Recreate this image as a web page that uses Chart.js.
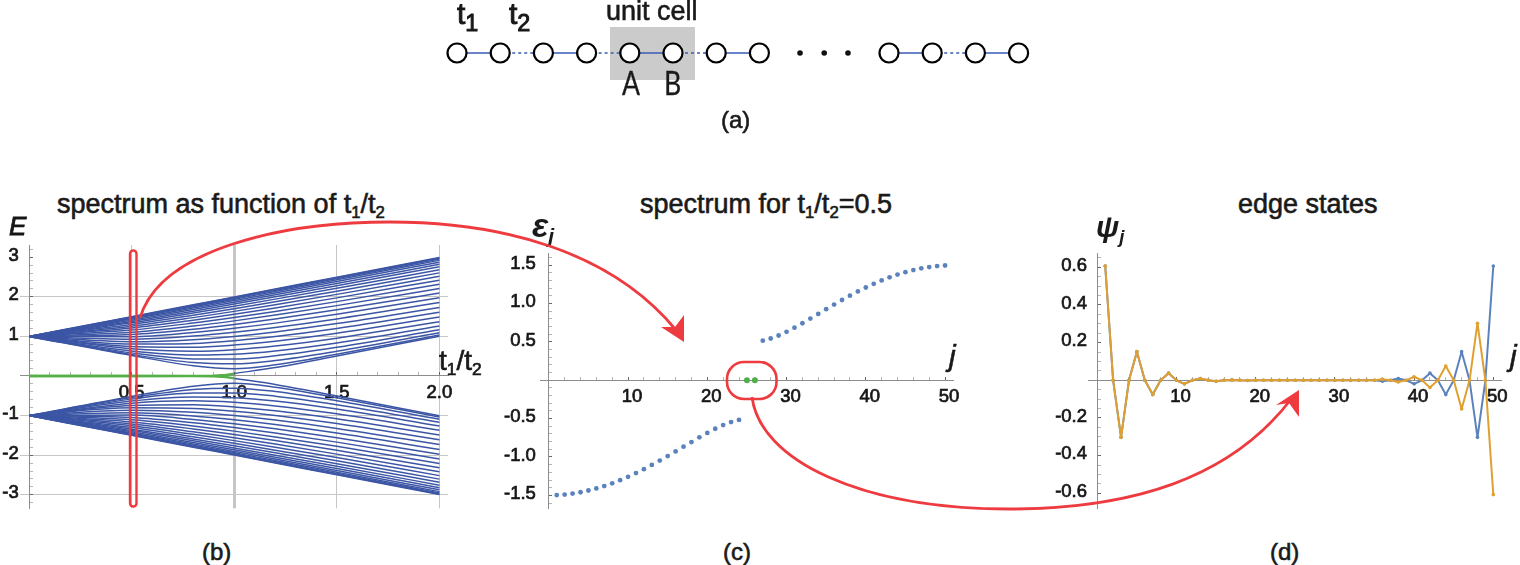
<!DOCTYPE html>
<html>
<head>
<meta charset="utf-8">
<title>SSH chain</title>
<script src="https://cdn.jsdelivr.net/npm/chart.js@4/dist/chart.umd.min.js"></script>
<style>
  html,body{margin:0;padding:0;background:#fff;}
  #page{position:relative;width:1520px;height:565px;overflow:hidden;font-family:"Liberation Sans",sans-serif;color:#1a1a1a;}
  canvas{position:absolute;}
  #cell{position:absolute;left:610px;top:27px;width:85px;height:53px;background:#cbcbcb;}
  #overlay{position:absolute;left:0;top:0;pointer-events:none;}
  .lbl{position:absolute;white-space:nowrap;line-height:1;}
  .title{font-size:27px;-webkit-text-stroke:0.6px #1a1a1a;}
  .cap{font-size:24px;-webkit-text-stroke:0.6px #1a1a1a;}
  .ax{font-style:italic;font-size:30px;}
  .site{font-family:Lato;font-size:31px;transform:scale(0.86,1.05);transform-origin:left top;color:#1a1a1a;-webkit-text-stroke:0.3px #1a1a1a;}
  sub{font-size:62%;line-height:0;vertical-align:-0.3em;}
</style>
</head>
<body>
<div id="page">
  <div id="cell"></div>
  <canvas id="chainChart" width="600" height="52" style="left:440px;top:27px"></canvas>
  <canvas id="sweepChart" width="470" height="280" style="left:0;top:240px"></canvas>
  <canvas id="levelChart" width="490" height="280" style="left:490px;top:240px"></canvas>
  <canvas id="edgeChart" width="480" height="280" style="left:1040px;top:240px"></canvas>

  <span class="lbl" style="left:457px;top:-1px;font-size:30px;-webkit-text-stroke:0.9px #111">t<sub style="font-size:78%">1</sub></span>
  <span class="lbl" style="left:509px;top:-1px;font-size:30px;-webkit-text-stroke:0.9px #111">t<sub style="font-size:78%">2</sub></span>
  <span class="lbl" style="left:606px;top:-2px;font-size:27px;-webkit-text-stroke:0.6px #1a1a1a">unit cell</span>
  <span class="lbl site" style="left:622px;top:67px">A</span>
  <span class="lbl site" style="left:664px;top:67px">B</span>
  <span class="lbl cap" style="left:721px;top:108px">(a)</span>

  <span class="lbl title" style="left:57px;top:191px">spectrum as function of t<sub>1</sub>/t<sub>2</sub></span>
  <span class="lbl title" style="left:640px;top:191px">spectrum for t<sub>1</sub>/t<sub>2</sub>=0.5</span>
  <span class="lbl title" style="left:1238px;top:191px">edge states</span>

  <span class="lbl ax" style="left:9px;top:213px;font-size:26px;-webkit-text-stroke:0.8px #111">E</span>
  <span class="lbl" style="left:439px;top:347px;font-size:28px;-webkit-text-stroke:0.6px #111">t<sub>1</sub>/t<sub>2</sub></span>
  <span class="lbl ax" style="left:532px;top:208px;font-weight:bold;font-size:34px">ε<sub>j</sub></span>
  <span class="lbl ax" style="left:949px;top:341px;-webkit-text-stroke:0.5px #111">j</span>
  <span class="lbl ax" style="left:1096px;top:212px;font-weight:bold">ψ<sub>j</sub></span>
  <span class="lbl ax" style="left:1510px;top:341px;-webkit-text-stroke:0.5px #111">j</span>

  <span class="lbl cap" style="left:202px;top:540px">(b)</span>
  <span class="lbl cap" style="left:723px;top:540px">(c)</span>
  <span class="lbl cap" style="left:1270px;top:540px">(d)</span>

  <svg id="overlay" width="1520" height="565">
    <rect x="130" y="250.5" width="6.5" height="256" rx="3.2" fill="none" stroke="#ee3b40" stroke-width="2.4"/>
    <rect x="727" y="362" width="49.5" height="37" rx="17" fill="none" stroke="#ee3b40" stroke-width="2.6"/>
    <path d="M140,318 C160,250 280,222 390,222 C500,222 610,250 676,330" fill="none" stroke="#ee3b40" stroke-width="2.8"/>
    <polygon points="684,342 661,327 675,327 684,315" fill="#ee3b40"/>
    <path d="M752,397 C760,460 860,510 1015,509 C1130,508 1230,480 1292,398" fill="none" stroke="#ee3b40" stroke-width="2.8"/>
    <polygon points="1299,390 1276,405 1289,403 1299,417" fill="#ee3b40"/>
  </svg>
</div>

<script>
// panel (a) chain
const nodeSites = [1,2,3,4,5,6,7,8,11,12,13,14]
const solidBonds = [1,2,null,3,4,null,5,6,null,7,8,null,11,12,null,13,14]
const dashedBonds = [2,3,null,4,5,null,6,7,null,12,13]
const dotSites = [8.94,9.5,10.05]

// panel (b) levels read at these t1/t2
const ratioSamples = [0,0.5,0.8,1,1.2,1.5,2]
const upperBand = [
  [1,1.497,1.797,1.996,2.196,2.495,2.995],
  [1,1.490,1.787,1.985,2.183,2.482,2.980],
  [1,1.477,1.770,1.966,2.163,2.459,2.955],
  [1,1.460,1.746,1.940,2.134,2.428,2.920],
  [1,1.437,1.716,1.906,2.097,2.387,2.875],
  [1,1.410,1.680,1.865,2.053,2.338,2.821],
  [1,1.379,1.637,1.817,2.000,2.281,2.757],
  [1,1.343,1.589,1.762,1.941,2.215,2.685],
  [1,1.302,1.534,1.700,1.873,2.142,2.604],
  [1,1.258,1.474,1.632,1.799,2.061,2.516],
  [1,1.210,1.408,1.558,1.719,1.973,2.420],
  [1,1.159,1.337,1.478,1.631,1.878,2.317],
  [1,1.104,1.261,1.392,1.538,1.777,2.208],
  [1,1.047,1.181,1.301,1.439,1.670,2.094],
  [1,0.988,1.096,1.205,1.335,1.559,1.976],
  [1,0.927,1.008,1.105,1.226,1.442,1.855],
  [1,0.866,0.917,1.000,1.114,1.323,1.732],
  [1,0.805,0.822,0.891,0.997,1.201,1.609],
  [1,0.744,0.725,0.780,0.877,1.078,1.489],
  [1,0.686,0.627,0.665,0.755,0.955,1.372],
  [1,0.632,0.529,0.547,0.632,0.836,1.265],
  [1,0.584,0.432,0.428,0.510,0.724,1.169],
  [1,0.545,0.340,0.307,0.391,0.625,1.090],
  [1,0.517,0.260,0.185,0.284,0.549,1.033],
  [null,null,null,0.062,0.212,0.506,1.004]
]
const lowerBand = [
  [-1,-1.497,-1.797,-1.996,-2.196,-2.495,-2.995],
  [-1,-1.490,-1.787,-1.985,-2.183,-2.482,-2.980],
  [-1,-1.477,-1.770,-1.966,-2.163,-2.459,-2.955],
  [-1,-1.460,-1.746,-1.940,-2.134,-2.428,-2.920],
  [-1,-1.437,-1.716,-1.906,-2.097,-2.387,-2.875],
  [-1,-1.410,-1.680,-1.865,-2.053,-2.338,-2.821],
  [-1,-1.379,-1.637,-1.817,-2.000,-2.281,-2.757],
  [-1,-1.343,-1.589,-1.762,-1.941,-2.215,-2.685],
  [-1,-1.302,-1.534,-1.700,-1.873,-2.142,-2.604],
  [-1,-1.258,-1.474,-1.632,-1.799,-2.061,-2.516],
  [-1,-1.210,-1.408,-1.558,-1.719,-1.973,-2.420],
  [-1,-1.159,-1.337,-1.478,-1.631,-1.878,-2.317],
  [-1,-1.104,-1.261,-1.392,-1.538,-1.777,-2.208],
  [-1,-1.047,-1.181,-1.301,-1.439,-1.670,-2.094],
  [-1,-0.988,-1.096,-1.205,-1.335,-1.559,-1.976],
  [-1,-0.927,-1.008,-1.105,-1.226,-1.442,-1.855],
  [-1,-0.866,-0.917,-1.000,-1.114,-1.323,-1.732],
  [-1,-0.805,-0.822,-0.891,-0.997,-1.201,-1.609],
  [-1,-0.744,-0.725,-0.780,-0.877,-1.078,-1.489],
  [-1,-0.686,-0.627,-0.665,-0.755,-0.955,-1.372],
  [-1,-0.632,-0.529,-0.547,-0.632,-0.836,-1.265],
  [-1,-0.584,-0.432,-0.428,-0.510,-0.724,-1.169],
  [-1,-0.545,-0.340,-0.307,-0.391,-0.625,-1.090],
  [-1,-0.517,-0.260,-0.185,-0.284,-0.549,-1.033],
  [null,null,null,-0.062,-0.212,-0.506,-1.004]
]
const edgeRatio = [0,0.5,0.8,0.9,0.96,1]
const edgeUpper = [0,0,0.002,0.008,0.025,0.06]
const edgeLower = [0,0,-0.002,-0.008,-0.025,-0.06]

// panel (c) levels at t1/t2 = 0.5
const levelIndex = [1,2,3,4,5,6,7,8,9,10,11,12,13,14,15,16,17,18,19,20,21,22,23,24,27,28,29,30,31,32,33,34,35,36,37,38,39,40,41,42,43,44,45,46,47,48,49,50]
const levelValues = [-1.497,-1.490,-1.477,-1.460,-1.437,-1.410,-1.379,-1.343,-1.302,-1.258,-1.210,-1.159,-1.104,-1.047,-0.988,-0.927,-0.866,-0.805,-0.744,-0.686,-0.632,-0.584,-0.545,-0.517,
  0.517,0.545,0.584,0.632,0.686,0.744,0.805,0.866,0.927,0.988,1.047,1.104,1.159,1.210,1.258,1.302,1.343,1.379,1.410,1.437,1.460,1.477,1.490,1.497]
const zeroIndex = [25,26]
const zeroValues = [0,0]

// panel (d) edge states
const siteIndex = [1,2,3,4,5,6,7,8,9,10,11,12,13,14,15,16,17,18,19,20,21,22,23,24,25,26,27,28,29,30,31,32,33,34,35,36,37,38,39,40,41,42,43,44,45,46,47,48,49,50]
const psiBlue = [0.607,0,-0.303,0,0.152,0,-0.076,0,0.038,0,-0.019,0,0.009,0,-0.005,0,0.002,0,-0.001,0,0,0,0,0,0,0,0,0,0,0,0,0,0,0,0,-0.005,0,0.009,0,-0.019,0,0.038,0,-0.076,0,0.152,0,-0.303,0,0.607]
const psiOrange = [0.607,0,-0.303,0,0.152,0,-0.076,0,0.038,0,-0.019,0,0.009,0,-0.005,0,0.002,0,-0.001,0,0,0,0,0,0,0,0,0,0,0,0,0,0,0,0,0.005,0,-0.009,0,0.019,0,-0.038,0,0.076,0,-0.152,0,0.303,0,-0.607]

function pairs(xs,ys){
  return xs.map((x,i)=>({x:x,y:ys[i]}))
}
function isMajor(v,step){
  return Math.abs(v/step-Math.round(v/step))<1e-6
}

const tickFont = {family:'"Liberation Sans"',size:18.5,weight:'normal'}
const axisGrey = '#8c8c8c'

// one axis: ticks every minor, labels every major, grid lines optional
function axisOpts(o){
  return {
    type:'linear',
    min:o.min,max:o.max,
    position:o.position,
    border:{display:true,color:axisGrey,width:1},
    // label room would shrink the plot, the plot box is fixed here
    afterFit:s=>{s.paddingTop=0;s.paddingBottom=0;s.paddingLeft=0;s.paddingRight=0},
    grid:{
      drawOnChartArea:!!o.gridWidth,
      tickLength:-4,
      color:ctx=>(o.gridWidth && isMajor(ctx.tick.value,o.major) && Math.abs(ctx.tick.value)>1e-6 && (!o.gridSkip || !o.gridSkip.includes(ctx.tick.value)))?'#c6c6c6':'rgba(0,0,0,0)',
      lineWidth:ctx=>o.gridWidth?o.gridWidth(ctx.tick.value):1,
      tickColor:ctx=>isMajor(ctx.tick.value,o.major)?'#666':'#b5b5b5',
      tickWidth:1
    },
    ticks:{
      stepSize:o.minor,
      includeBounds:false,
      autoSkip:false,
      maxRotation:0,
      font:tickFont,
      color:'#161616',
      textStrokeColor:'#161616',
      textStrokeWidth:0.7,
      padding:o.padding||0,
      labelOffset:o.labelOffset||0,
      callback:function(v){
        if(!isMajor(v,o.major)||Math.abs(v)<1e-6) return ''
        return v.toFixed(o.digits)+(o.gap||'')
      }
    }
  }
}

const baseOptions = {
  responsive:false,
  animation:false,
  events:[],
  plugins:{legend:{display:false},tooltip:{enabled:false}}
}

// chain
new Chart(document.getElementById('chainChart'),{
  type:'scatter',
  data:{datasets:[
    {data:nodeSites.map(s=>({x:s,y:0})),pointRadius:9.5,pointBackgroundColor:'#fff',pointBorderColor:'#000',pointBorderWidth:2.2,order:1},
    {data:dotSites.map(s=>({x:s,y:0})),pointRadius:2.8,pointBackgroundColor:'#111',pointBorderWidth:0,order:2},
    {data:solidBonds.map(s=>({x:s,y:s===null?null:0})),showLine:true,pointRadius:0,borderColor:'#3b5cb8',borderWidth:1.6,order:3},
    {data:dashedBonds.map(s=>({x:s,y:s===null?null:0})),showLine:true,pointRadius:0,borderColor:'#3b5cb8',borderWidth:1.6,borderDash:[3,3],order:4}
  ]},
  options:{...baseOptions,
    layout:{autoPadding:false},
    scales:{x:{display:false,min:0.606,max:14.495},y:{display:false,min:-1,max:1}}
  }
})

// spectrum vs ratio
const bandColor = '#3c56a5'
function bandSet(rows){
  return rows.map(r=>({
    data:pairs(ratioSamples,r),showLine:true,pointRadius:0,
    borderColor:bandColor,borderWidth:1.5,cubicInterpolationMode:'monotone'
  }))
}
new Chart(document.getElementById('sweepChart'),{
  type:'scatter',
  data:{datasets:[
    {data:pairs(edgeRatio,edgeUpper),showLine:true,pointRadius:0,borderColor:'#55b04a',borderWidth:2.4},
    {data:pairs(edgeRatio,edgeLower),showLine:true,pointRadius:0,borderColor:'#55b04a',borderWidth:2.4},
    ...bandSet(upperBand),
    ...bandSet(lowerBand)
  ]},
  options:{...baseOptions,
    layout:{autoPadding:false,padding:{left:20,right:22,top:5,bottom:11.7}},
    scales:{
      x:axisOpts({min:-0.0439,max:2.0419,minor:0.1,major:0.5,digits:1,position:{y:0},padding:9.5,
        gridWidth:v=>Math.abs(v-1)<1e-6?3:1}),
      y:axisOpts({min:-3.341,max:3.308,minor:0.2,major:1,digits:0,position:{x:0},labelOffset:-1.5,gap:'\u00A0\u00A0',
        gridWidth:v=>1,gridSkip:[3,-3]})
    }
  }
})

// levels at 0.5
new Chart(document.getElementById('levelChart'),{
  type:'scatter',
  data:{datasets:[
    {data:pairs(zeroIndex,zeroValues),pointRadius:3,pointBackgroundColor:'#4fb04a',pointBorderWidth:0},
    {data:pairs(levelIndex,levelValues),pointRadius:2.4,pointBackgroundColor:'#5b82bd',pointBorderWidth:0}
  ]},
  options:{...baseOptions,
    layout:{autoPadding:false,padding:{left:50,right:26.7,top:13.3,bottom:11.7}},
    scales:{
      x:axisOpts({min:-1.11,max:51.04,minor:2,major:10,digits:0,position:{y:0},padding:9.5,labelOffset:4}),
      y:axisOpts({min:-1.669,max:1.656,minor:0.1,major:0.5,digits:1,position:{x:0},labelOffset:-1.5,gap:'\u2002\u2009'})
    }
  }
})

// edge states
new Chart(document.getElementById('edgeChart'),{
  type:'scatter',
  data:{datasets:[
    {data:pairs(siteIndex,psiBlue),showLine:true,borderColor:'#5b82bd',borderWidth:2,borderJoinStyle:'round',pointRadius:1.8,pointBackgroundColor:'#5b82bd',pointBorderWidth:0,order:2},
    {data:pairs(siteIndex,psiOrange),showLine:true,borderColor:'#e0a030',borderWidth:2,borderJoinStyle:'round',pointRadius:1.8,pointBackgroundColor:'#e0a030',pointBorderWidth:0,order:1}
  ]},
  options:{...baseOptions,
    layout:{autoPadding:false,padding:{left:48.3,right:18.3,top:13.3,bottom:11.7}},
    scales:{
      x:axisOpts({min:-1.136,max:51.06,minor:2,major:10,digits:0,position:{y:0},padding:9.5,labelOffset:4}),
      y:axisOpts({min:-0.6798,max:0.6744,minor:0.05,major:0.2,digits:1,position:{x:0},labelOffset:-1.5,gap:'\u00A0\u00A0'})
    }
  }
})
</script>
</body>
</html>
